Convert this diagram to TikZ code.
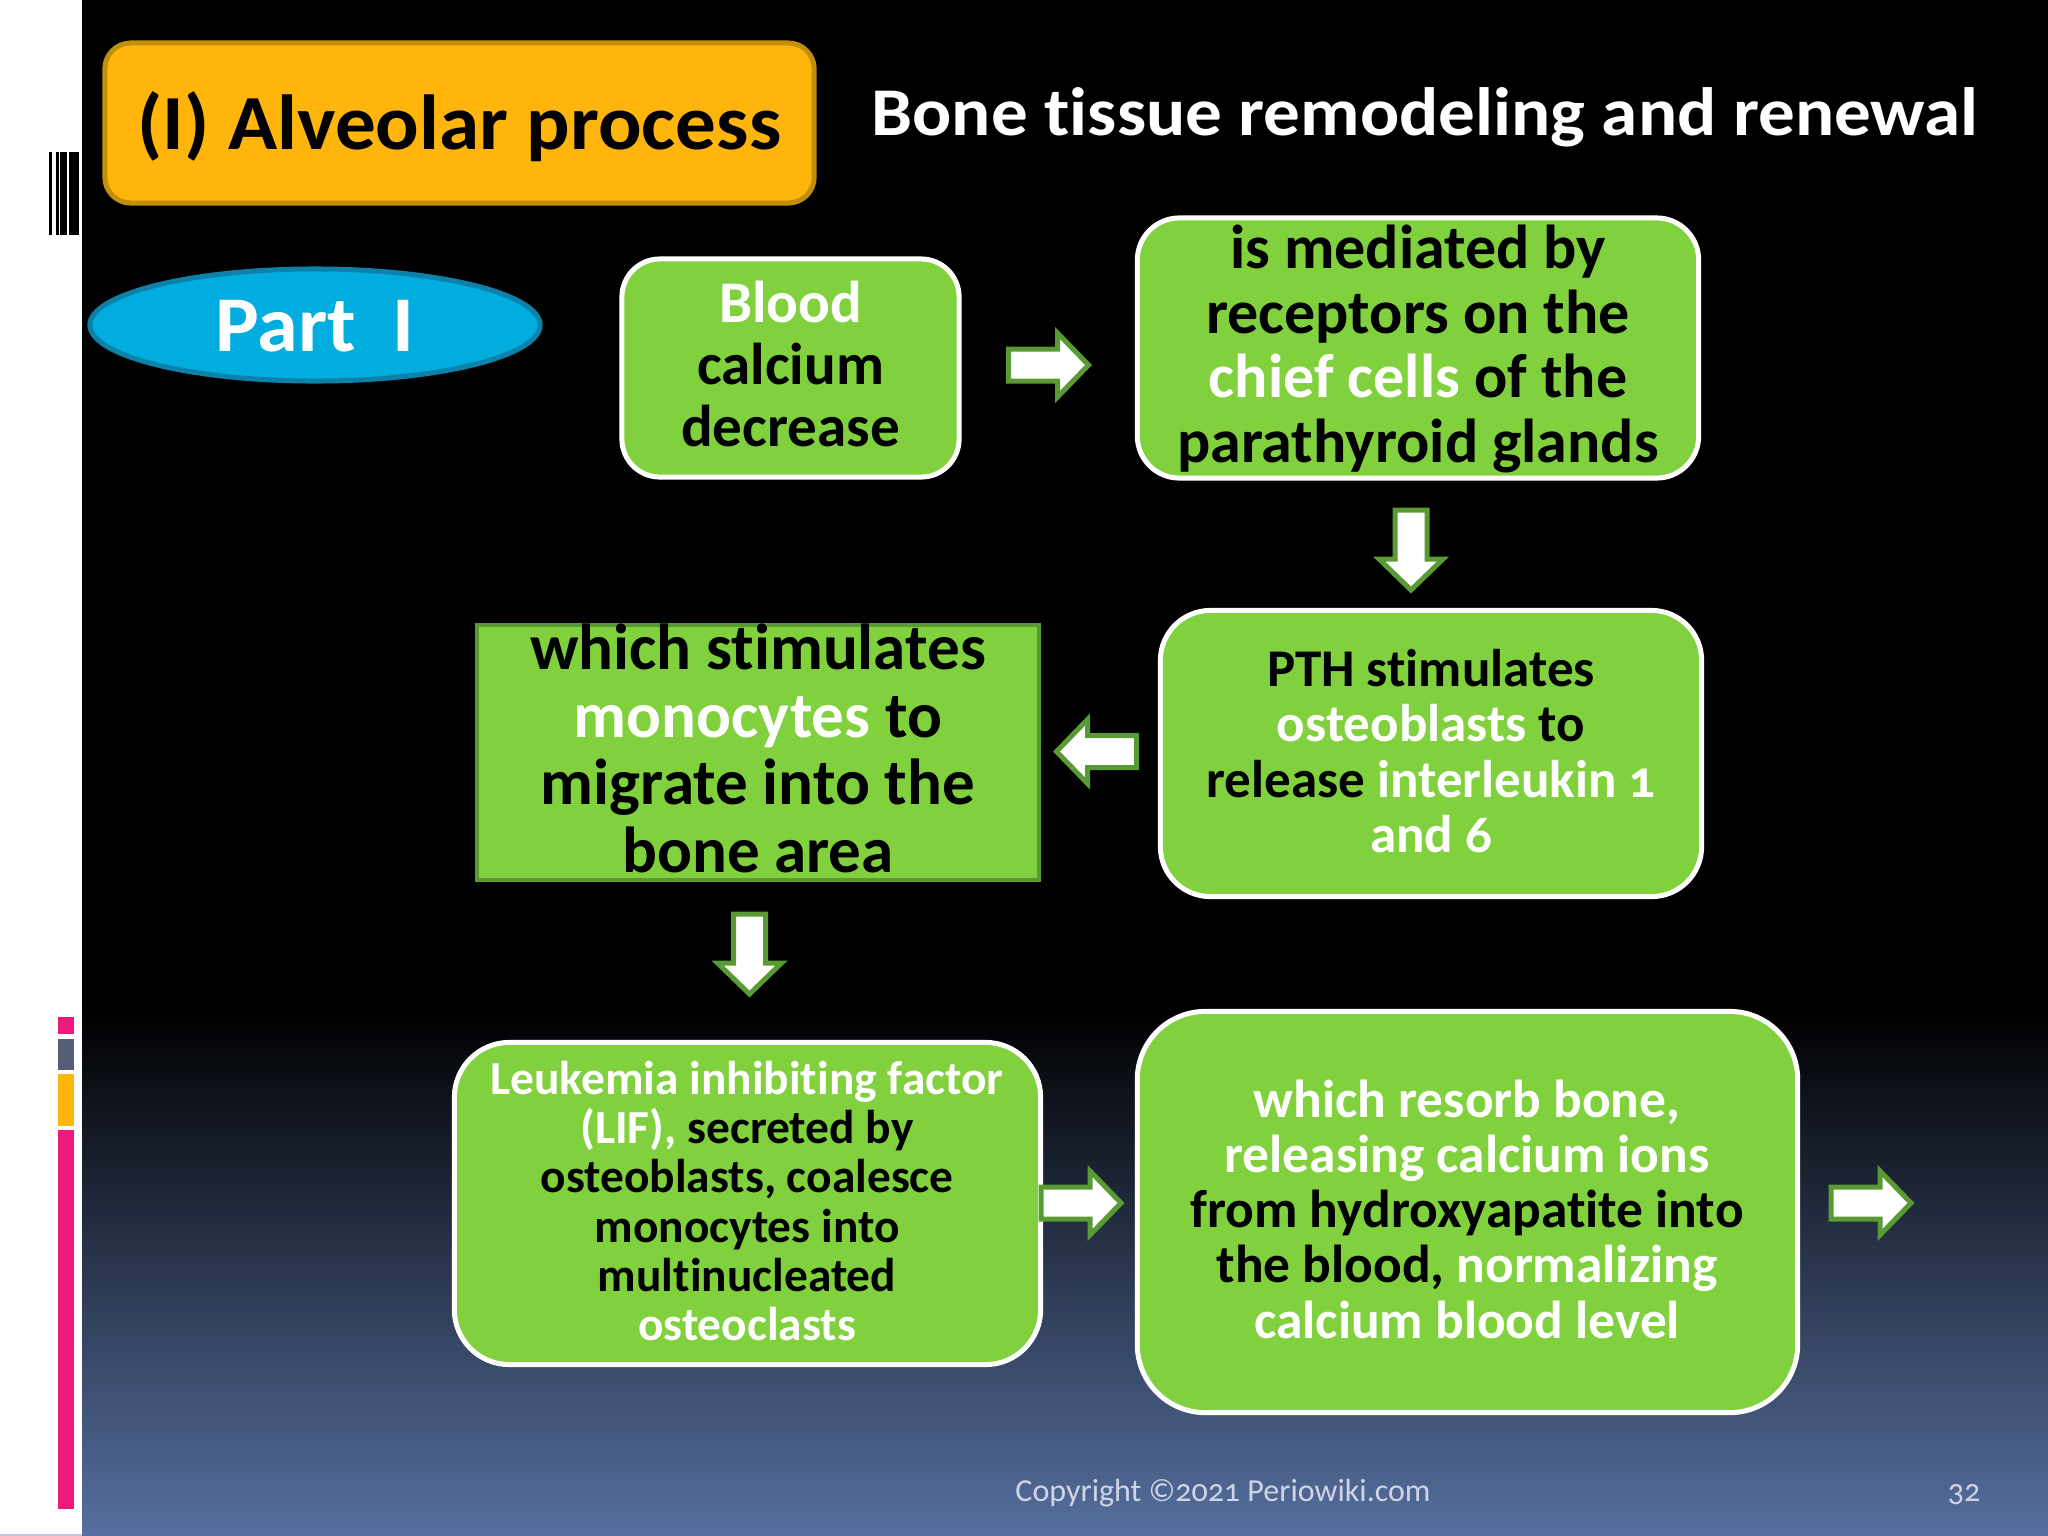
\documentclass[tikz,border=0pt]{standalone}
\usepackage{fontspec}
\usetikzlibrary{shapes.geometric}
\setmainfont{Carlito}[Numbers=OldStyle,Ligatures=NoCommon]
\newfontfamily\hdfont{Carlito}[Numbers=OldStyle,Ligatures=NoCommon,FakeStretch=1.04]
\newfontfamily\ttlfont{Carlito}[Numbers=OldStyle,Ligatures=NoCommon,FakeStretch=1.07]
\definecolor{gr}{HTML}{80D13D}
\definecolor{grd}{HTML}{5A9A35}
\definecolor{orf}{HTML}{FFB50B}
\definecolor{ord}{HTML}{C28F0B}
\definecolor{bluef}{HTML}{00ADDE}
\definecolor{blued}{HTML}{0C82AA}
\definecolor{pk}{HTML}{ED1A7D}
\definecolor{sl}{HTML}{556078}
\definecolor{foot}{HTML}{CDD5E6}
\definecolor{bot}{HTML}{566F9F}
\definecolor{edgeline}{HTML}{C4C4E4}
\newcommand\fz[2]{\fontsize{\fpeval{#1*0.28453}}{\fpeval{#2*0.28453}}\selectfont}
\newcommand\wh[1]{\textcolor{white}{#1}}
\tikzset{
 x=0.01cm,y=-0.01cm,
 gbox/.style={draw=white,line width=0.05cm,fill=gr,rounded corners=#1,inner sep=0,outer sep=0},
 rbox/.style={draw=grd,line width=0.04cm,fill=gr,inner sep=0,outer sep=0},
 txt/.style={align=center,inner sep=0,text=black,font=\bfseries},
 blockR/.pic={\draw[draw=grd,line width=0.05cm,fill=white,miter limit=10]
   (-40,-16)--(9,-16)--(9,-32)--(40,0)--(9,32)--(9,16)--(-40,16)--cycle;},
}
\begin{document}
\begin{tikzpicture}
\useasboundingbox (0,0) rectangle (2048,1536);
\fill[white] (0,0) rectangle (2048,1536);
\fill[black] (82,0) rectangle (2048,1012);
\shade[top color=black,bottom color=bot] (82,1010) rectangle (2048,1536);
\fill[edgeline] (0,1534) rectangle (82,1536);
\fill[black] (49,152) rectangle (51.7,234.5);
\fill[black] (56,152) rectangle (58.7,234.5);
\fill[black] (60.3,152) rectangle (67,234.5);
\fill[black] (68.7,152) rectangle (79.3,234.5);
\fill[pk] (57.5,1017) rectangle (74,1034);
\fill[sl] (57.5,1039) rectangle (74,1070);
\fill[orf] (57.5,1074) rectangle (74,1126);
\fill[pk] (57.5,1130) rectangle (74,1509);

\node[draw=ord,line width=0.05cm,fill=orf,rounded corners=0.26cm,minimum width=7.09cm,minimum height=1.6cm,inner sep=0] (head) at (459.5,123) {};
\node[txt,font=\hdfont\bfseries\fz{78}{90}] (headt) at (459.5,127) {(I) Alveolar process};
\node[txt,text=white,font=\ttlfont\bfseries\fz{68.3}{80},anchor=base] (title) at (1425,135) {Bone tissue remodeling and renewal};
\node[draw=blued,line width=0.05cm,fill=bluef,ellipse,minimum width=4.5cm,minimum height=1.12cm,inner sep=0] (part) at (315,325) {};
\node[txt,text=white,font=\hdfont\bfseries\fz{79}{90}] (partt) at (315,326) {Part\ \ I};

\node[gbox=0.38cm,minimum width=3.37cm,minimum height=2.18cm] (a) at (790.5,368) {};
\node[txt,font=\bfseries\fz{59}{62}] (at) at (790.5,364) {\wh{Blood}\\calcium\\decrease};
\node[gbox=0.42cm,minimum width=5.61cm,minimum height=2.6cm] (b) at (1418,348) {};
\node[txt,font=\bfseries\fz{62}{64.6}] (bt) at (1418,349) {is mediated by\\receptors on the\\\wh{chief cells} of the\\parathyroid glands};
\node[gbox=0.5cm,minimum width=5.41cm,minimum height=2.86cm] (c) at (1431,753.5) {};
\node[txt,font=\bfseries\fz{53}{55.2}] (ct) at (1431,751) {PTH stimulates\\\wh{osteoblasts} to\\release \wh{interleukin 1}\\\wh{and 6}};
\node[rbox,minimum width=5.62cm,minimum height=2.55cm] (d) at (758,752.5) {};
\node[txt,font=\bfseries\fz{65}{67.5}] (dt) at (758,748.5) {which stimulates\\\wh{monocytes} to\\migrate into the\\bone area};
\node[gbox=0.55cm,minimum width=5.86cm,minimum height=3.22cm] (e) at (747.5,1203.5) {};
\node[txt,font=\bfseries\fz{47.4}{49.3}] (et) at (747,1201) {\wh{Leukemia inhibiting factor}\\\wh{(LIF),} secreted by\\osteoblasts, coalesce\\monocytes into\\multinucleated\\\wh{osteoclasts}};
\node[gbox=0.68cm,minimum width=6.6cm,minimum height=4.01cm] (f) at (1467.5,1212) {};
\node[txt,font=\bfseries\fz{53.4}{55.2}] (ft) at (1467,1209) {\wh{which resorb bone,}\\\wh{releasing calcium ions}\\from hydroxyapatite into\\the blood, \wh{normalizing}\\\wh{calcium blood level}};

\pic at (1048.5,365) {blockR};
\pic[rotate=270] at (1411,550) {blockR};
\pic[rotate=180] at (1096.5,751.5) {blockR};
\pic[rotate=270] at (749.5,954) {blockR};
\pic at (1081,1203) {blockR};
\pic at (1871,1203) {blockR};

\node[text=foot,inner sep=0,font=\fz{32}{36},anchor=base] (copy) at (1223,1501) {Copyright ©2021 Periowiki.com};
\node[text=foot,inner sep=0,font=\fz{32}{36},anchor=base] (num) at (1964,1501) {32};
\end{tikzpicture}
\end{document}
